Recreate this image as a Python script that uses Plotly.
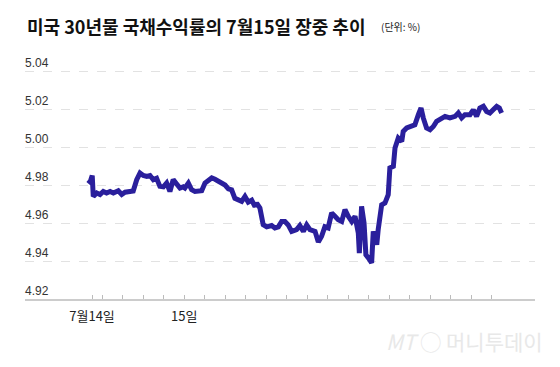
import plotly.graph_objects as go

# hours relative to 7/15 00:00
hours = [-4.68, -4.58, -4.49, -4.44, -4.27, -4.11, -3.95, -3.79, -3.62, -3.46,
         -3.22, -3.05, -2.89, -2.65, -2.49, -2.32, -2.16, -2.00, -1.83, -1.67,
         -1.51, -1.35, -1.19, -1.02, -0.86, -0.70, -0.54, -0.37, -0.21, -0.05,
         0.03, 0.20, 0.36, 0.52, 0.68, 0.85, 1.01, 1.17, 1.34, 1.50,
         1.66, 1.82, 1.99, 2.15, 2.31, 2.47, 2.63, 2.80, 2.96, 3.12,
         3.29, 3.45, 3.53, 3.69, 3.85, 4.02, 4.26, 4.42, 4.59, 4.75,
         4.91, 5.07, 5.24, 5.48, 5.64, 5.81, 5.97, 6.13, 6.38, 6.54,
         6.70, 6.86, 7.02, 7.19, 7.35, 7.51, 7.68, 7.84, 8.00, 8.17,
         8.33, 8.49, 8.54, 8.65, 8.77, 8.86, 8.98, 9.14, 9.22, 9.39,
         9.46, 9.63, 9.79, 9.95, 10.03, 10.20, 10.28, 10.44, 10.61, 10.68,
         10.85, 11.01, 11.25, 11.42, 11.55, 11.66, 11.82, 11.99, 12.15, 12.31,
         12.47, 12.72, 12.96, 13.21, 13.37, 13.53, 13.69, 13.94, 14.10, 14.26,
         14.42, 14.59, 14.75, 14.91, 15.07, 15.24, 15.37, 15.48]

yields = [4.9807, 4.9820, 4.9850, 4.9740, 4.9758, 4.9750, 4.9766, 4.9758, 4.9766, 4.9758,
          4.9770, 4.9750, 4.9762, 4.9762, 4.9768, 4.9828, 4.9863, 4.9850, 4.9845, 4.9850,
          4.9828, 4.9835, 4.9793, 4.9790, 4.9810, 4.9766, 4.9828, 4.9805, 4.9784, 4.9790,
          4.9784, 4.9810, 4.9775, 4.9766, 4.9770, 4.9770, 4.9810, 4.9823, 4.9837, 4.9830,
          4.9820, 4.9810, 4.9800, 4.9780, 4.9775, 4.9730, 4.9720, 4.9714, 4.9740, 4.9710,
          4.9720, 4.9687, 4.9705, 4.9679, 4.9591, 4.9580, 4.9587, 4.9574, 4.9580, 4.9608,
          4.9608, 4.9590, 4.9556, 4.9565, 4.9586, 4.9556, 4.9590, 4.9565, 4.9556, 4.9500,
          4.9530, 4.9580, 4.9574, 4.9653, 4.9635, 4.9617, 4.9608, 4.9670, 4.9635, 4.9608,
          4.9635, 4.9547, 4.9442, 4.9687, 4.9600, 4.9433, 4.9416, 4.9390, 4.9556, 4.9486,
          4.9565, 4.9696, 4.9705, 4.9749, 4.9890, 4.9898, 4.9995, 5.0047, 5.0030, 5.0082,
          5.0100, 5.0108, 5.0117, 5.0170, 5.0205, 5.0153, 5.0100, 5.0091, 5.0108, 5.0135,
          5.0144, 5.0161, 5.0153, 5.0161, 5.0179, 5.0153, 5.0170, 5.0170, 5.0196, 5.0161,
          5.0205, 5.0214, 5.0187, 5.0179, 5.0196, 5.0214, 5.0205, 5.0179]

tick_hours = [-4.5, -4, -3, -2, -1, 0, 1, 2, 3, 4, 5, 6, 7, 8, 9, 10, 11, 12, 13, 14, 15]
tick_text = ["7월14일", "", "", "", "", "15일"] + [""] * 15

y_ticks = [4.92, 4.94, 4.96, 4.98, 5.00, 5.02, 5.04]
y_tick_text = ["4.92", "4.94", "4.96", "4.98", "5.00", "5.02", "5.04"]

title_text = "미국 30년물 국채수익률의 7월15일 장중 추이"
unit_text = "(단위: %)"

L, R, T, B = 25, 25, 56, 68
W, H = 560, 367
px_per_unit = 1900.0
y_top = 4.92 + (H - B - T) / px_per_unit

fig = go.Figure()
fig.add_trace(go.Scatter(
    x=hours, y=yields, mode="lines",
    line=dict(color="#2a1f9c", width=5),
    hoverinfo="skip",
))

fig.update_layout(
    width=W, height=H,
    margin=dict(l=L, r=R, t=T, b=B),
    paper_bgcolor="white", plot_bgcolor="white",
    showlegend=False,
    xaxis=dict(
        range=[-7.77, 17.11],
        tickmode="array", tickvals=tick_hours, ticktext=tick_text,
        ticks="inside", ticklen=4, tickcolor="#bbbbbb", tickwidth=1,
        showgrid=False, zeroline=False,
        showline=True, linecolor="#cccccc", linewidth=2,
        tickfont=dict(family="Noto Sans CJK KR, sans-serif", size=13, color="#222"),
        ticklabelstandoff=4,
    ),
    yaxis=dict(
        range=[4.92, y_top],
        tickmode="array", tickvals=y_ticks,
        showticklabels=False,
        ticks="",
        showgrid=True, gridcolor="#e2e2e2", griddash="dash", gridwidth=1,
        zeroline=False, showline=False,
    ),
    annotations=[
        dict(text="<b>" + title_text + "</b>", x=25, y=26, xref="paper", yref="paper",
             showarrow=False, xanchor="left", yanchor="middle",
             font=dict(family="Noto Sans CJK KR", size=18, color="#111")),
        dict(text=unit_text, x=379, y=27, xref="paper", yref="paper",
             showarrow=False, xanchor="left", yanchor="middle",
             font=dict(family="Noto Sans CJK KR", size=10, color="#222")),
        dict(text="<i>MT</i> ◯ 머니투데이", x=545, y=341, xref="paper", yref="paper",
             showarrow=False, xanchor="right", yanchor="middle",
             font=dict(family="Noto Sans CJK KR", size=21, color="#e8e8e8")),
    ],
)

# convert pixel-placed annotations to paper coords
pw, ph = W - L - R, H - T - B
for a in fig.layout.annotations:
    a.x = (a.x - L) / pw
    a.y = (H - B - a.y) / ph

# y-axis labels sitting just above each gridline, left-aligned
for v, t in zip(y_ticks, y_tick_text):
    fig.add_annotation(
        text=t, x=0, y=v, xref="paper", yref="y",
        showarrow=False, xanchor="left", yanchor="bottom",
        xshift=-2, yshift=-1,
        font=dict(family="Liberation Sans Narrow, Liberation Sans, sans-serif", size=12, color="#333"),
    )

fig.write_html("out.html",
               config={"displayModeBar": False},
               post_script="document.body.style.margin='0px';document.body.style.overflow='hidden';")
